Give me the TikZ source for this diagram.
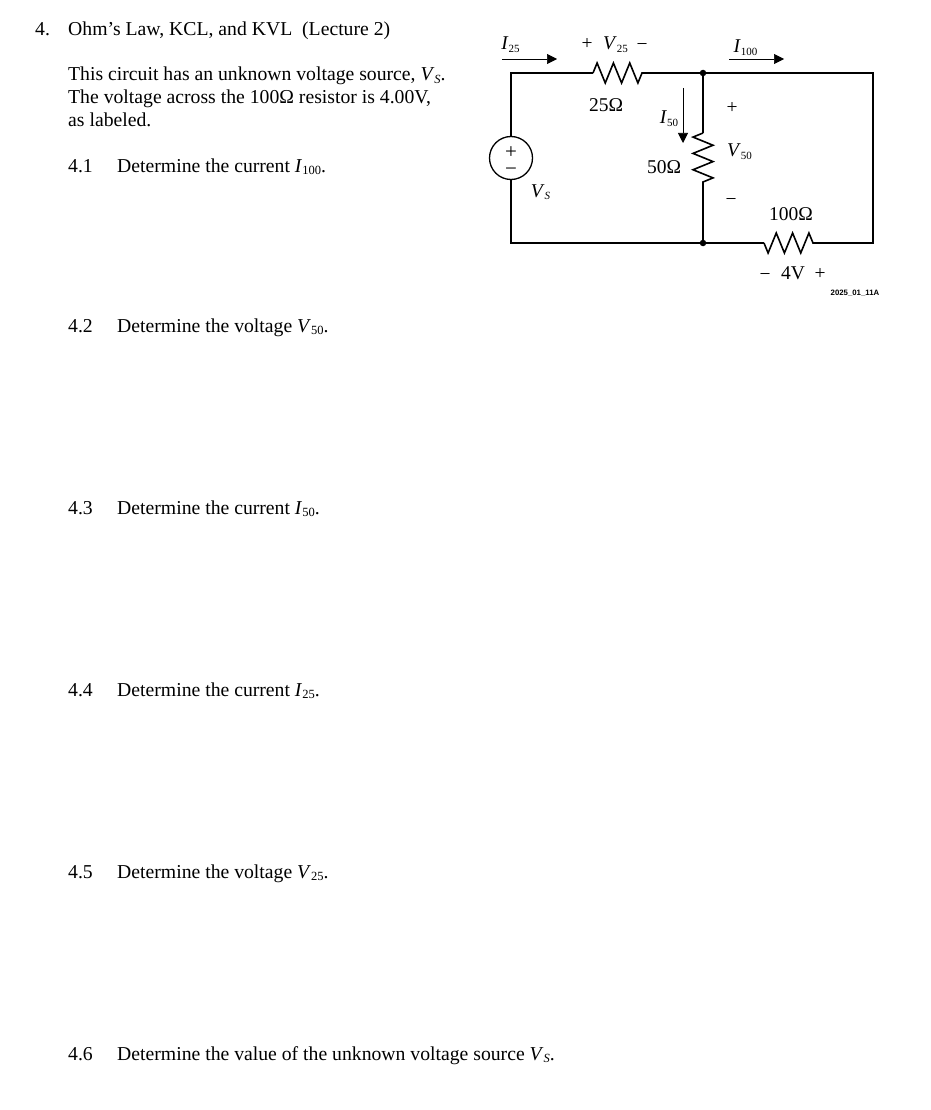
\documentclass[tikz,border=0pt]{standalone}
\usepackage{fontspec}
\setmainfont{Liberation Serif}
\newfontfamily\stampfont{Liberation Sans}
\usetikzlibrary{arrows.meta,decorations.pathmorphing}
\newcommand{\subsz}{12.5}
\newcommand{\qty}[2]{\textit{#1}\raisebox{-2.5pt}{\fontsize{\subsz}{\subsz}\selectfont #2}}
\newcommand{\qtyit}[2]{\textit{#1}\raisebox{-2.5pt}{\fontsize{\subsz}{\subsz}\selectfont\textit{#2}}}
\begin{document}
\begin{tikzpicture}[
                x=1pt, y=-1pt,
                txt/.style={inner sep=0pt, anchor=base west, font=\fontsize{19.7}{22}\selectfont},
                lab/.style={inner sep=0pt, anchor=base, font=\fontsize{19.5}{22}\selectfont\def\subsz{11}},
                sgn/.style={inner sep=0pt, anchor=base, font=\fontsize{21}{21}\selectfont},
                wire/.style={line width=1.6pt, line join=miter},
                res/.style={wire, decorate, decoration={zigzag, segment length=16.33pt, amplitude=10pt}},
                resm/.style={wire, decorate, decoration={zigzag, segment length=16.33pt, amplitude=10pt, mirror}},
                cur/.style={line width=0.7pt, -{Triangle[length=10pt, width=10pt]}},
                dot/.style={circle, fill=black, inner sep=0pt, minimum size=6.5pt},
            ]
            \useasboundingbox (0,0) rectangle (930,1110);

            % question text
            \node[txt] (num) at (35,36) {4.};
            \node[txt] (title) at (68,36) {Ohm’s Law, KCL, and KVL\ \ (Lecture 2)};
            \node[txt] (introa) at (68,81) {This circuit has an unknown voltage source, \qtyit{V}{S}.};
            \node[txt] (introb) at (68,104) {The voltage across the 100Ω resistor is 4.00V,};
            \node[txt] (introc) at (68,127) {as labeled.};
            \foreach \y/\n/\q in {
                    172/1/{Determine the current \qty{I}{100}.},
                    332/2/{Determine the voltage \qty{V}{50}.},
                    514/3/{Determine the current \qty{I}{50}.},
                    696/4/{Determine the current \qty{I}{25}.},
                    878/5/{Determine the voltage \qty{V}{25}.},
                    1060/6/{Determine the value of the unknown voltage source \qtyit{V}{S}.}} {
                \node[txt] (qn\n) at (68,\y) {4.\n};
                \node[txt] (q\n) at (117,\y) {\q};
            }

            % circuit
            \node[circle, draw, line width=1.3pt, minimum size=43pt, inner sep=0pt] (src) at (511,158) {};
            \node[sgn] (srcp) at (511,158.5) {+};
            \node[sgn] (srcm) at (511,175.5) {−};
            \node[dot] (jtop) at (703,73) {};
            \node[dot] (jbot) at (703,243) {};
            \coordinate (ra) at (593,73);
            \coordinate (rb) at (642,73);
            \coordinate (rc) at (703,133);
            \coordinate (rd) at (703,183);
            \coordinate (re) at (764,243);
            \coordinate (rf) at (813,243);
            \coordinate (tr) at (873,73);
            \coordinate (br) at (873,243);

            \draw[wire] (src.north) |- (ra);
            \draw[res] (ra) -- (rb);
            \draw[wire] (rb) -- (jtop);
            \draw[wire] (jtop) -- (tr) -- (br) -- (rf);
            \draw[resm] (re) -- (rf);
            \draw[wire] (re) -- (jbot);
            \draw[wire] (jbot) -| (src.south);
            \draw[wire] (jtop) -- (rc);
            \draw[resm] (rc) -- (rd);
            \draw[wire] (rd) -- (jbot);

            % current arrows
            \coordinate (ia) at (502,59);
            \coordinate (ib) at (557,59);
            \coordinate (ic) at (729,59);
            \coordinate (id) at (784,59);
            \coordinate (ie) at (683,88);
            \coordinate (if) at (683,143);
            \draw[cur] (ia) -- (ib);
            \draw[cur] (ic) -- (id);
            \draw[cur] (ie) -- (if);

            % labels
            \node[lab] (li25) at (510.5,50) {\qty{I}{25}};
            \node[lab] (li100) at (745.5,53) {\qty{I}{100}};
            \node[lab] (li50) at (669,124) {\qty{I}{50}};
            \node[lab] (vp25) at (587,50) {+};
            \node[lab] (lv25) at (615.5,50) {\qty{V}{25}};
            \node[lab] (vm25) at (642,51) {−};
            \node[lab] (lr25) at (606,112) {25Ω};
            \node[lab] (lr50) at (664,174) {50Ω};
            \node[lab] (lr100) at (791,220) {100Ω};
            \node[lab] (lvs) at (540.5,197) {\qtyit{V}{S}};
            \node[lab] (vp50) at (732,114) {+};
            \node[lab] (lv50) at (739.5,157) {\qty{V}{50}};
            \node[lab] (vm50) at (731,205) {−};
            \node[lab] (vm4) at (765,280) {−};
            \node[lab] (lv4) at (793,279) {4V};
            \node[lab] (vp4) at (820,279) {+};
            \node[inner sep=0pt, anchor=base, font=\stampfont\bfseries\fontsize{7.8}{8}\selectfont] (stamp) at (855,295) {2025\_01\_11A};
            \end{tikzpicture}
\end{document}
